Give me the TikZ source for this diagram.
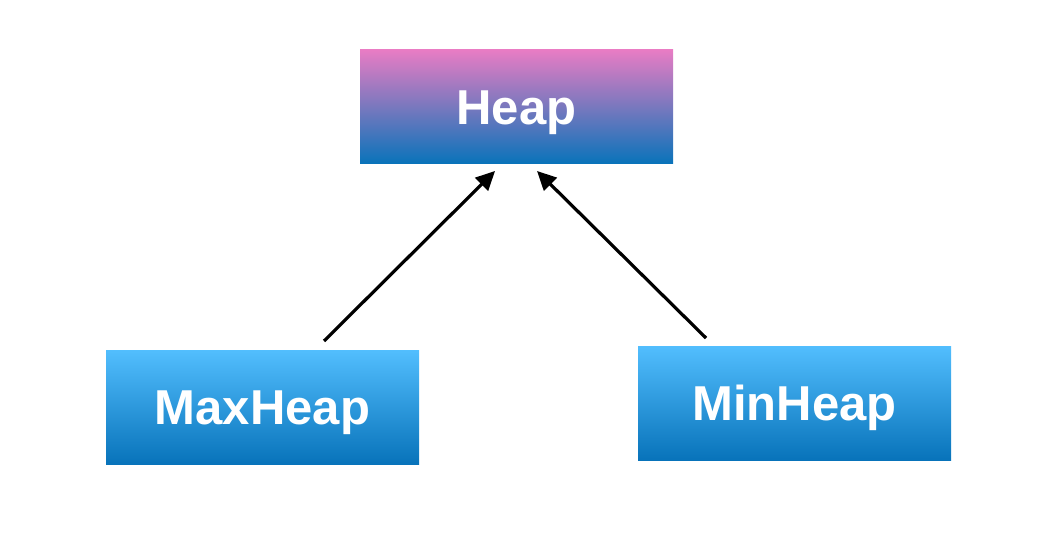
\documentclass[tikz,border=0pt]{standalone}
\usepackage{fontspec}
\setmainfont{Liberation Sans}
\usetikzlibrary{arrows.meta}
\definecolor{pinktop}{RGB}{232,124,196}
\definecolor{bluebot}{RGB}{8,115,186}
\definecolor{lighttop}{RGB}{82,190,254}
\tikzset{
  box/.style={minimum width=313pt, minimum height=114pt, inner sep=0pt, text=white,
    text height=35pt, text depth=0pt,
    font=\fontsize{49}{58}\selectfont\bfseries},
  heapbox/.style={box, top color=pinktop, bottom color=bluebot, middle color={rgb,255:red,120;green,120;blue,190}},
  subbox/.style={box, top color=lighttop, bottom color=bluebot},
  link/.style={line width=3.2pt, -{Triangle[length=19pt,width=18pt]}}
}
\begin{document}
\begin{tikzpicture}[x=1pt,y=-1pt]
\useasboundingbox (0,0) rectangle (1062,540);
\node[heapbox] (heap) at (516.5,107) {Heap};
\node[subbox] (max) at (262.5,407) {MaxHeap};
\node[subbox] (min) at (794.5,403) {MinHeap};
\coordinate (s1) at (324,341);
\coordinate (t1) at (495,171);
\coordinate (s2) at (706,338);
\coordinate (t2) at (537,171);
\draw[link] (s1) -- (t1);
\draw[link] (s2) -- (t2);
\end{tikzpicture}
\end{document}
